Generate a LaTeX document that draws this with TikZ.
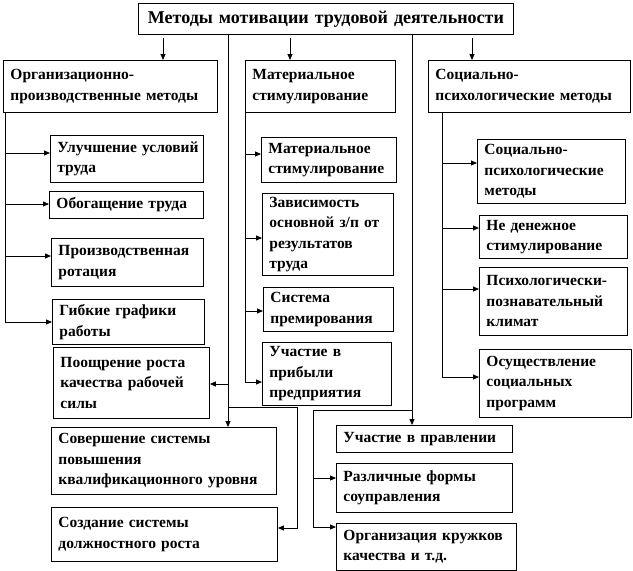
\documentclass[tikz,border=0pt]{standalone}
\usepackage{fontspec}
\setmainfont{Liberation Serif}
\usetikzlibrary{arrows.meta}
\newcommand\bxnode[6]{\node[bx, text width=#4pt-#2pt-14pt, minimum height=#5pt-#3pt] (#1) at (#2,#3) {#6};}
\begin{document}
\begin{tikzpicture}[x=1pt,y=-1pt,
  bx/.style={draw, line width=0.9pt, anchor=north west, inner xsep=7pt, inner ysep=0pt, align=left, font=\fontsize{15.5}{20.5}\selectfont\bfseries},
  ln/.style={line width=0.9pt},
  arr/.style={line width=0.9pt, -{Triangle[length=6pt,width=5pt]}}]
\useasboundingbox (0,0) rectangle (633,571);
\node[bx, minimum height=31pt, inner xsep=0pt, text width=375pt, align=center, font=\fontsize{18}{22}\selectfont\bfseries] (T) at (138,3) {Методы мотивации трудовой деятельности};
\bxnode{O}{3}{60}{217}{112}{Организационно-\\производственные методы}
\bxnode{M}{245}{60}{395}{112}{Материальное\\стимулирование}
\bxnode{S}{428}{60}{630}{112}{Социально-\\психологические методы}
\bxnode{L1}{50}{135}{203}{182}{\mbox{Улучшение условий}\\труда}
\bxnode{L2}{49}{191}{203}{218}{Обогащение труда}
\bxnode{L3}{51}{238}{203}{286}{Производственная\\ротация}
\bxnode{L4}{52}{299}{204}{344}{Гибкие графики\\работы}
\bxnode{L5}{53}{347}{209}{418}{Поощрение роста\\качества рабочей\\силы}
\bxnode{L6}{51}{427}{276}{494}{Совершение системы\\повышения\\квалификационного уровня}
\bxnode{L7}{51}{507}{277}{561}{Создание системы\\должностного роста}
\bxnode{M1}{261}{137}{396}{182}{Материальное\\стимулирование}
\bxnode{M2}{262}{193}{393}{275}{Зависимость\\основной з/п от\\результатов\\труда}
\bxnode{M3}{263}{287}{393}{331}{Система\\премирования}
\bxnode{M4}{262}{342}{391}{405}{Участие в\\прибыли\\предприятия}
\bxnode{S1}{477}{139}{625}{203}{Социально-\\психологические\\методы}
\bxnode{S2}{479}{215}{627}{258}{Не денежное\\стимулирование}
\bxnode{S3}{479}{267}{627}{335}{Психологически-\\познавательный\\климат}
\bxnode{S4}{479}{349}{631}{417}{Осуществление\\социальных\\программ}
\bxnode{R1}{336}{425}{512}{452}{Участие в правлении}
\bxnode{R2}{336}{463}{512}{512}{Различные формы\\соуправления}
\bxnode{R3}{336}{523}{516}{570}{Организация кружков\\качества и т.д.}
% arrows from title
\coordinate (a1) at (163,38);
\coordinate (a2) at (290,38);
\coordinate (a3) at (472,38);
\draw[arr] (a1) -- (a1 |- O.north);
\draw[arr] (a2) -- (a2 |- M.north);
\draw[arr] (a3) -- (a3 |- S.north);
% left trunk
\coordinate (tL) at (T.south -| 228,0);
\coordinate (jL) at (228,407);
\coordinate (kL) at (297,528);
\draw[arr] (tL) -- (L6.north -| tL);
\draw[arr] (228,384) -- (L5.east |- 0,384);
\draw[arr] (jL) -| (kL) -- (L7.east |- kL);
% right trunk
\coordinate (tR) at (T.south -| 412,0);
\coordinate (jR) at (412,410);
\coordinate (kR) at (313,527);
\draw[arr] (tR) -- (R1.north -| tR);
\draw[arr] (jR) -| (kR) -- (R3.west |- kR);
\draw[arr] (313,478) -- (R2.west |- 0,478);
% organisational
\coordinate (oO) at (O.south -| 5,0);
\draw[ln] (oO) -- (5,322);
\foreach \n/\y in {L1/153,L2/204,L3/256,L4/322} \draw[arr] (5,\y) -- (\n.west |- 0,\y);
% material
\coordinate (oM) at (M.south west);
\draw[ln] (oM) -- (245,382);
\foreach \n/\y in {M1/154,M2/238,M3/311,M4/382} \draw[arr] (245,\y) -- (\n.west |- 0,\y);
% social
\coordinate (oS) at (S.south -| 442,0);
\draw[ln] (oS) -- (442,377);
\foreach \n/\y in {S1/163,S2/228,S3/289,S4/377} \draw[arr] (442,\y) -- (\n.west |- 0,\y);
\end{tikzpicture}
\end{document}
